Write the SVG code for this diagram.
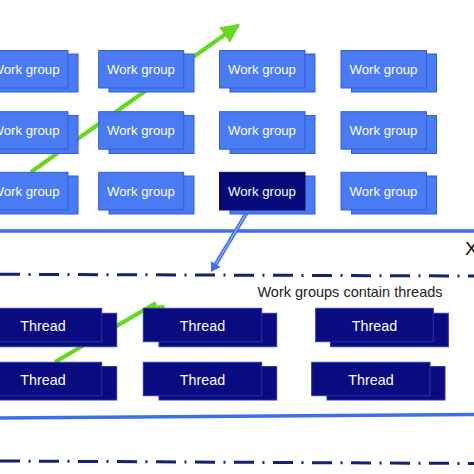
<svg xmlns="http://www.w3.org/2000/svg" width="474" height="474" viewBox="0 0 474 474">
<style>
.wb{fill:#4a7bf2;stroke:#2f5fd8;stroke-width:1}
.wd{fill:#06097a;stroke:#0a1060;stroke-width:1}
.tb{fill:#0a0b80;stroke:#2636a8;stroke-width:1}
.wt{font-family:"Liberation Sans",Arial,sans-serif;font-size:13.2px;fill:#ffffff;text-anchor:middle}
.tt{font-family:"Liberation Sans",Arial,sans-serif;font-size:14.3px;fill:#ffffff;text-anchor:middle}
.solid{stroke:#3d6fe8;stroke-width:3.6;fill:none}
.dd{stroke:#15236e;stroke-width:3;fill:none;stroke-dasharray:20 8.5 2 8.5}
</style>
<defs>
<marker id="gh" viewBox="0 0 10 10" refX="9" refY="5" markerWidth="4.8" markerHeight="4.8" orient="auto" markerUnits="strokeWidth">
<path d="M0,0 L10,5 L0,10 z" fill="#66d91f"/>
</marker>
</defs>
<rect width="474" height="474" fill="#ffffff"/>
<g id="connectors">
<line x1="31" y1="172" x2="238.5" y2="25" stroke="#66d91f" stroke-width="4" marker-end="url(#gh)"/>
<line x1="55" y1="362" x2="156" y2="303" stroke="#66d91f" stroke-width="4"/>
<polygon points="148,306 164,305 165,309 147,309" fill="#66d91f"/>
<line x1="0" y1="231" x2="474" y2="231" class="solid"/>
<line x1="0" y1="418" x2="474" y2="414.5" class="solid"/>
<line x1="0" y1="274.3" x2="474" y2="276" class="dd"/>
<line x1="0" y1="461" x2="474" y2="463.5" class="dd"/>
<line x1="249" y1="209" x2="215.5" y2="264.5" stroke="#3f6fe6" stroke-width="4"/>
<line x1="249" y1="209" x2="215.5" y2="264.5" stroke="#8fb0ff" stroke-width="1.3"/>
<polygon points="211,272 220.5,267 211,261.3" fill="#3f6fe6"/>
</g>
<g id="wg-r1c1"><rect class="wb" x="-7" y="54" width="85" height="38"/><rect class="wb" x="-17" y="50.5" width="85" height="37.5"/><text class="wt" x="25.5" y="74">Work group</text></g>
<g id="wg-r1c2"><rect class="wb" x="109" y="54" width="85" height="38"/><rect class="wb" x="98.7" y="50.5" width="85" height="37.5"/><text class="wt" x="141" y="74">Work group</text></g>
<g id="wg-r1c3"><rect class="wb" x="230" y="54" width="85" height="38"/><rect class="wb" x="219.5" y="50.5" width="85.5" height="37.5"/><text class="wt" x="262" y="74">Work group</text></g>
<g id="wg-r1c4"><rect class="wb" x="351.5" y="54" width="85" height="38"/><rect class="wb" x="341" y="50.5" width="85.5" height="37.5"/><text class="wt" x="383.5" y="74">Work group</text></g>
<g id="wg-r2c1"><rect class="wb" x="-7" y="115.5" width="85" height="38"/><rect class="wb" x="-17" y="111.7" width="85" height="37.5"/><text class="wt" x="25.5" y="135">Work group</text></g>
<g id="wg-r2c2"><rect class="wb" x="109" y="115.5" width="85" height="38"/><rect class="wb" x="98.7" y="111.7" width="85" height="37.5"/><text class="wt" x="141" y="135">Work group</text></g>
<g id="wg-r2c3"><rect class="wb" x="230" y="115.5" width="85" height="38"/><rect class="wb" x="219.5" y="111.7" width="85.5" height="37.5"/><text class="wt" x="262" y="135">Work group</text></g>
<g id="wg-r2c4"><rect class="wb" x="351.5" y="115.5" width="85" height="38"/><rect class="wb" x="341" y="111.7" width="85.5" height="37.5"/><text class="wt" x="383.5" y="135">Work group</text></g>
<g id="wg-r3c1"><rect class="wb" x="-7" y="176" width="85" height="38"/><rect class="wb" x="-17" y="172.3" width="85" height="37.7"/><text class="wt" x="25.5" y="196">Work group</text></g>
<g id="wg-r3c2"><rect class="wb" x="109" y="176" width="85" height="38"/><rect class="wb" x="98.7" y="172.3" width="85" height="37.7"/><text class="wt" x="141" y="196">Work group</text></g>
<g id="wg-r3c3"><rect class="wb" x="230" y="176" width="85" height="38"/><rect class="wd" x="219.5" y="172.3" width="85.5" height="37.7"/><text class="wt" x="262" y="196">Work group</text></g>
<g id="wg-r3c4"><rect class="wb" x="351.5" y="176" width="85" height="38"/><rect class="wb" x="341" y="172.3" width="85.5" height="37.7"/><text class="wt" x="383.5" y="196">Work group</text></g>
<g id="th-r1c1"><rect class="tb" x="-1" y="313.3" width="117.7" height="33.4"/><rect class="tb" x="-16" y="308.3" width="117.7" height="33.4"/><text class="tt" x="43" y="330.5">Thread</text></g>
<g id="th-r1c2"><rect class="tb" x="159" y="313.3" width="117.7" height="33.4"/><rect class="tb" x="143.3" y="308.3" width="118.4" height="33.4"/><text class="tt" x="202.5" y="330.5">Thread</text></g>
<g id="th-r1c3"><rect class="tb" x="330.6" y="313.3" width="117.7" height="33.4"/><rect class="tb" x="315.7" y="308.3" width="117.6" height="33.4"/><text class="tt" x="374.5" y="330.5">Thread</text></g>
<g id="th-r2c1"><rect class="tb" x="-1" y="366.6" width="117.7" height="33.4"/><rect class="tb" x="-16" y="362.3" width="117.7" height="33.4"/><text class="tt" x="43" y="384.5">Thread</text></g>
<g id="th-r2c2"><rect class="tb" x="159" y="366.6" width="117.7" height="33.4"/><rect class="tb" x="143.3" y="362.3" width="118.4" height="33.4"/><text class="tt" x="202.5" y="384.5">Thread</text></g>
<g id="th-r2c3"><rect class="tb" x="327" y="366.6" width="118" height="33.4"/><rect class="tb" x="311.7" y="362.3" width="118.3" height="33.4"/><text class="tt" x="371" y="384.5">Thread</text></g>
<text x="350" y="296.7" font-family="Liberation Sans, Arial, sans-serif" font-size="14.5" fill="#222222" text-anchor="middle">Work groups contain threads</text>
<text x="465" y="255" font-family="Liberation Sans, Arial, sans-serif" font-size="19" fill="#111111">X</text>
</svg>
